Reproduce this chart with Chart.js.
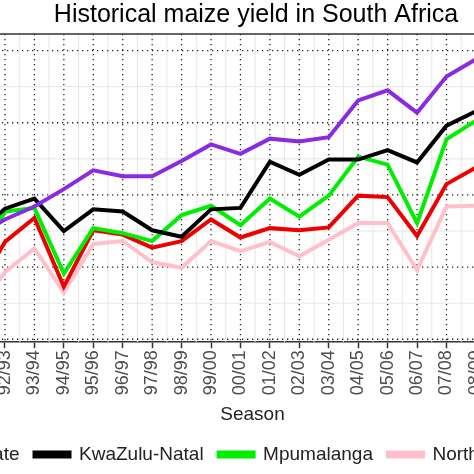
<!DOCTYPE html>
<html><head><meta charset="utf-8">
<script src="https://cdn.jsdelivr.net/npm/chart.js@4/dist/chart.umd.min.js"></script>
<style>html,body{margin:0;padding:0;overflow:hidden;background:#fff;width:474px;height:474px}
#wrap{position:absolute;left:-223px;top:0;width:958px;height:474px}</style>
</head><body><div id="wrap"><canvas id="c"></canvas></div>
<script>
const seasons = ['91/92','92/93','93/94','94/95','95/96','96/97','97/98','98/99','99/00','00/01','01/02','02/03','03/04','04/05','05/06','06/07','07/08','08/09'];
const freeState   = [1.42,1.66,1.84,2.08,2.34,2.26,2.26,2.47,2.70,2.57,2.78,2.74,2.80,3.31,3.45,3.14,3.64,3.88];
const kwaZuluNatal= [1.45,1.81,1.95,1.50,1.80,1.77,1.51,1.42,1.80,1.82,2.46,2.28,2.49,2.49,2.62,2.45,2.96,3.16];
const mpumalanga  = [1.04,1.77,1.82,0.91,1.54,1.47,1.36,1.72,1.85,1.58,1.95,1.70,1.99,2.53,2.42,1.61,2.77,3.03];
const northWest   = [0.36,0.93,1.26,0.65,1.32,1.36,1.07,0.99,1.36,1.22,1.35,1.15,1.38,1.61,1.61,0.96,1.84,1.85];
const rsa         = [0.64,1.35,1.68,0.73,1.51,1.45,1.27,1.36,1.66,1.41,1.54,1.51,1.55,1.99,1.97,1.43,2.15,2.38];
const yGrid = [0,0.5,1,1.5,2,2.5,3,3.5,4];

const gridPlugin = {
  id:'ggGrid',
  beforeDatasetsDraw(chart){
    const {ctx, chartArea:a, scales:{x,y}} = chart;
    ctx.save();
    ctx.beginPath(); ctx.rect(a.left,a.top,a.right-a.left,a.bottom-a.top); ctx.clip();
    ctx.strokeStyle='#e6e6e6'; ctx.lineWidth=1; ctx.setLineDash([]);
    yGrid.forEach(v=>{ if(v%1!==0){const p=y.getPixelForValue(v); ctx.beginPath(); ctx.moveTo(a.left,p); ctx.lineTo(a.right,p); ctx.stroke();}});
    for(let i=-1;i<seasons.length;i++){const p=x.getPixelForValue(i+0.5); ctx.beginPath(); ctx.moveTo(p,a.top); ctx.lineTo(p,a.bottom); ctx.stroke();}
    ctx.strokeStyle='#222'; ctx.lineWidth=1.3; ctx.setLineDash([1.3,3.7]);
    yGrid.forEach(v=>{ if(v%1===0){const p=y.getPixelForValue(v); ctx.beginPath(); ctx.moveTo(a.left,p); ctx.lineTo(a.right,p); ctx.stroke();}});
    for(let i=0;i<seasons.length;i++){const p=x.getPixelForValue(i); ctx.beginPath(); ctx.moveTo(p,a.top); ctx.lineTo(p,a.bottom); ctx.stroke();}
    ctx.restore();
    ctx.save(); ctx.strokeStyle='#333'; ctx.lineWidth=1.5;
    ctx.beginPath(); ctx.moveTo(a.left,a.top); ctx.lineTo(a.right,a.top); ctx.stroke(); ctx.restore();
  }
};
function ds(label,vals,color,order){return {label,data:vals.map((v,i)=>({x:i,y:v})),borderColor:color,backgroundColor:color,borderWidth:4,pointRadius:0,tension:0,order,borderJoinStyle:'miter'};}
new Chart(document.getElementById('c'),{
  type:'line',
  data:{datasets:[
    ds('Free State',freeState,'#8a2be2',1),
    ds('KwaZulu-Natal',kwaZuluNatal,'#000000',2),
    ds('Mpumalanga',mpumalanga,'#00ee00',3),
    ds('North West',northWest,'#ffc0cb',5),
    ds('RSA',rsa,'#ee0000',4)
  ]},
  options:{
    responsive:true,maintainAspectRatio:false,animation:false,
    layout:{padding:0},
    plugins:{
      title:{display:true,text:'Historical maize yield in South Africa',color:'#000',font:{family:'Liberation Sans',size:25,weight:'normal'},padding:{top:0,bottom:4}},
      legend:{position:'bottom',labels:{sort:(a,b)=>a.datasetIndex-b.datasetIndex,boxWidth:35,boxHeight:4,padding:15,color:'#222',font:{family:'Liberation Sans',size:19}}},
      tooltip:{enabled:false}
    },
    scales:{
      x:{type:'linear',min:-6.745,max:25.565,grid:{color:'transparent',tickColor:'#333',tickLength:6,tickWidth:1.5},border:{color:'#333',width:1.5},
        ticks:{stepSize:1,includeBounds:false,minRotation:90,maxRotation:90,autoSkip:false,padding:2,color:'#4d4d4d',font:{family:'Liberation Sans',size:18},
          callback:(v)=>seasons[v]||''},
        title:{display:true,text:'Season',color:'#222',font:{family:'Liberation Sans',size:19},padding:{top:6,bottom:4}}},
      y:{display:false,min:-0.04,max:4.23}
    }
  },
  plugins:[gridPlugin]
});
</script></body></html>
